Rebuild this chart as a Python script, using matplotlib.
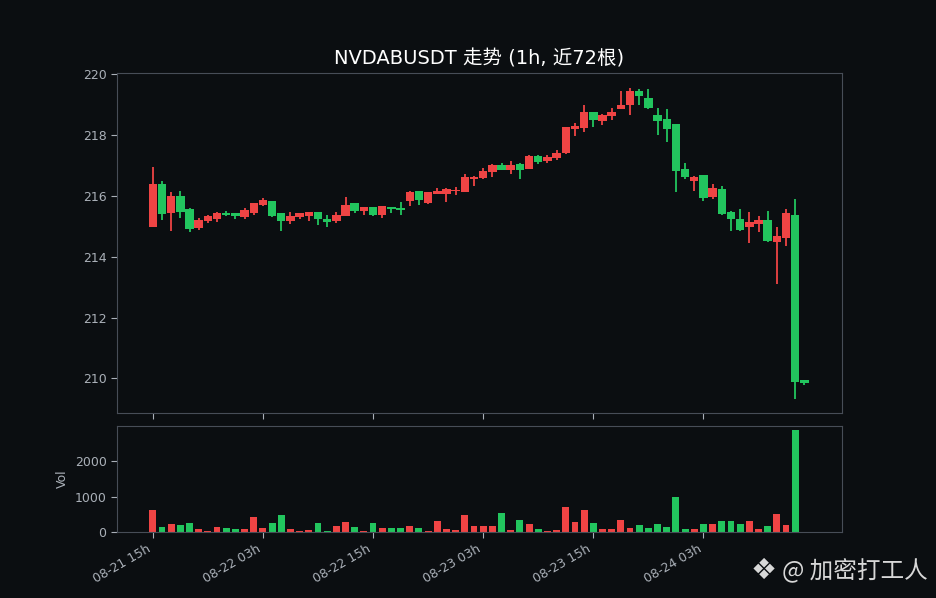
import numpy as np
import matplotlib
matplotlib.use("Agg")
import matplotlib.pyplot as plt

# hourly candles, 08-21 15h .. 08-24 14h
opens = [214.98, 216.38, 215.44, 215.99, 215.56, 214.94, 215.17, 215.24, 215.44, 215.43,
         215.31, 215.44, 215.70, 215.82, 215.43, 215.17, 215.31, 215.34, 215.46, 215.25,
         215.18, 215.34, 215.76, 215.50, 215.63, 215.36, 215.63, 215.59, 215.83, 216.15,
         215.77, 216.06, 216.06, 216.15, 216.13, 216.57, 216.60, 216.80, 217.03, 216.87,
         217.06, 216.89, 217.33, 217.15, 217.25, 217.43, 218.19, 218.25, 218.75, 218.48,
         218.63, 218.86, 218.98, 219.44, 219.24, 218.68, 218.52, 218.36, 216.88, 216.49,
         216.68, 215.96, 216.22, 215.46, 215.23, 214.98, 215.08, 215.20, 214.48, 214.62,
         215.36, 209.93]
closes = [216.38, 215.42, 215.99, 215.47, 214.91, 215.22, 215.33, 215.43, 215.38, 215.35,
          215.53, 215.76, 215.86, 215.34, 215.17, 215.33, 215.43, 215.46, 215.24, 215.14,
          215.39, 215.72, 215.49, 215.63, 215.36, 215.66, 215.57, 215.53, 216.12, 215.87,
          216.12, 216.15, 216.22, 216.19, 216.61, 216.64, 216.83, 217.03, 216.87, 217.03,
          216.87, 217.33, 217.12, 217.29, 217.43, 218.26, 218.29, 218.75, 218.50, 218.68,
          218.78, 219.01, 219.47, 219.29, 218.89, 218.46, 218.20, 216.82, 216.62, 216.61,
          215.93, 216.25, 215.40, 215.24, 214.88, 215.13, 215.20, 214.52, 214.67, 215.43,
          209.88, 209.86]
highs = [216.95, 216.51, 216.12, 216.18, 215.59, 215.26, 215.36, 215.47, 215.50, 215.44,
         215.60, 215.78, 215.93, 215.84, 215.45, 215.47, 215.45, 215.48, 215.47, 215.39,
         215.46, 215.96, 215.77, 215.65, 215.65, 215.68, 215.64, 215.80, 216.16, 216.17,
         216.14, 216.25, 216.25, 216.28, 216.71, 216.66, 216.91, 217.04, 217.07, 217.15,
         217.08, 217.34, 217.36, 217.36, 217.52, 218.28, 218.39, 218.98, 218.78, 218.70,
         218.90, 219.44, 219.57, 219.51, 219.51, 218.91, 218.88, 218.37, 217.10, 216.67,
         216.70, 216.38, 216.32, 215.50, 215.56, 215.46, 215.33, 215.49, 214.97, 215.56,
         215.89, 209.94]
lows = [214.98, 215.20, 214.85, 215.29, 214.81, 214.88, 215.11, 215.16, 215.33, 215.23,
        215.23, 215.36, 215.66, 215.32, 214.85, 215.07, 215.23, 215.17, 215.03, 214.97,
        215.10, 215.33, 215.43, 215.36, 215.34, 215.26, 215.43, 215.36, 215.67, 215.72,
        215.75, 216.05, 215.80, 216.03, 216.12, 216.33, 216.57, 216.62, 216.85, 216.73,
        216.56, 216.88, 217.05, 217.07, 217.20, 217.38, 217.97, 218.10, 218.27, 218.33,
        218.50, 218.85, 218.66, 218.99, 218.88, 218.00, 217.77, 216.13, 216.56, 216.16,
        215.83, 215.89, 215.38, 214.85, 214.86, 214.45, 214.81, 214.49, 213.10, 214.35,
        209.32, 209.77]
volumes = [620, 141, 226, 197, 254, 85, 28, 141, 113, 85,
           85, 423, 113, 254, 480, 85, 28, 56, 254, 28,
           169, 282, 141, 28, 254, 113, 113, 113, 169, 113,
           28, 310, 85, 56, 480, 169, 169, 169, 536, 56,
           338, 226, 85, 28, 56, 705, 282, 620, 254, 85,
           85, 338, 113, 197, 113, 226, 141, 987, 85, 85,
           226, 226, 310, 310, 226, 310, 85, 169, 508, 197,
           2876, 10]
tick_labels = ["08-21 15h", "08-22 03h", "08-22 15h", "08-23 03h", "08-23 15h", "08-24 03h"]

BG = "#0b0e11"
UP = "#ef4444"
DOWN = "#22c55e"
EDGE = "#474d57"
TXT = "#aab0b8"

o = np.array(opens)
c = np.array(closes)
h = np.array(highs)
l = np.array(lows)
v = np.array(volumes)
x = np.arange(len(o))
cols = np.where(c >= o, UP, DOWN)

fig = plt.figure(figsize=(9.36, 5.98), dpi=100, facecolor=BG)
ax = fig.add_axes([0.125, 0.309, 0.7746, 0.569])
axv = fig.add_axes([0.125, 0.1104, 0.7746, 0.1772], sharex=ax)

for a in (ax, axv):
    a.set_facecolor(BG)
    for s in a.spines.values():
        s.set_color(EDGE)
    a.tick_params(colors=TXT, labelsize=9, length=4)

# candles
ax.vlines(x, l, h, colors=cols, linewidth=1.3, zorder=2)
body = np.maximum(np.abs(c - o), 0.03)
ax.bar(x, body, bottom=np.minimum(o, c), width=0.92, color=cols, linewidth=0, zorder=3)
ax.set_ylim(208.85, 220.05)
ax.set_yticks([210, 212, 214, 216, 218, 220])
ax.set_xlim(-3.9, 75.1)
ax.set_xticks(np.arange(0, 72, 12))
ax.tick_params(axis="x", labelbottom=False)
ax.set_title("NVDABUSDT 走势 (1h, 近72根)", color="white", fontsize=14,
             family=["DejaVu Sans", "Noto Sans CJK SC"], pad=6)

# volume
axv.bar(x, v, width=0.75, color=cols, linewidth=0)
axv.set_ylim(0, 2990)
axv.set_yticks([0, 1000, 2000])
axv.set_ylabel("Vol", color=TXT, fontsize=9)
axv.set_xticks(np.arange(0, 72, 12))
axv.set_xticklabels(tick_labels, rotation=30, ha="right")

# watermark
fig.text(0.802, 0.046, "❖", color="#d8d8d8", fontsize=21, family="DejaVu Sans",
         ha="left", va="center")
fig.text(0.835, 0.046, "@ 加密打工人", color="#d8d8d8", fontsize=17,
         family=["Noto Sans CJK SC", "DejaVu Sans"], ha="left", va="center")

fig.savefig("out.png", dpi=100, facecolor=BG)
